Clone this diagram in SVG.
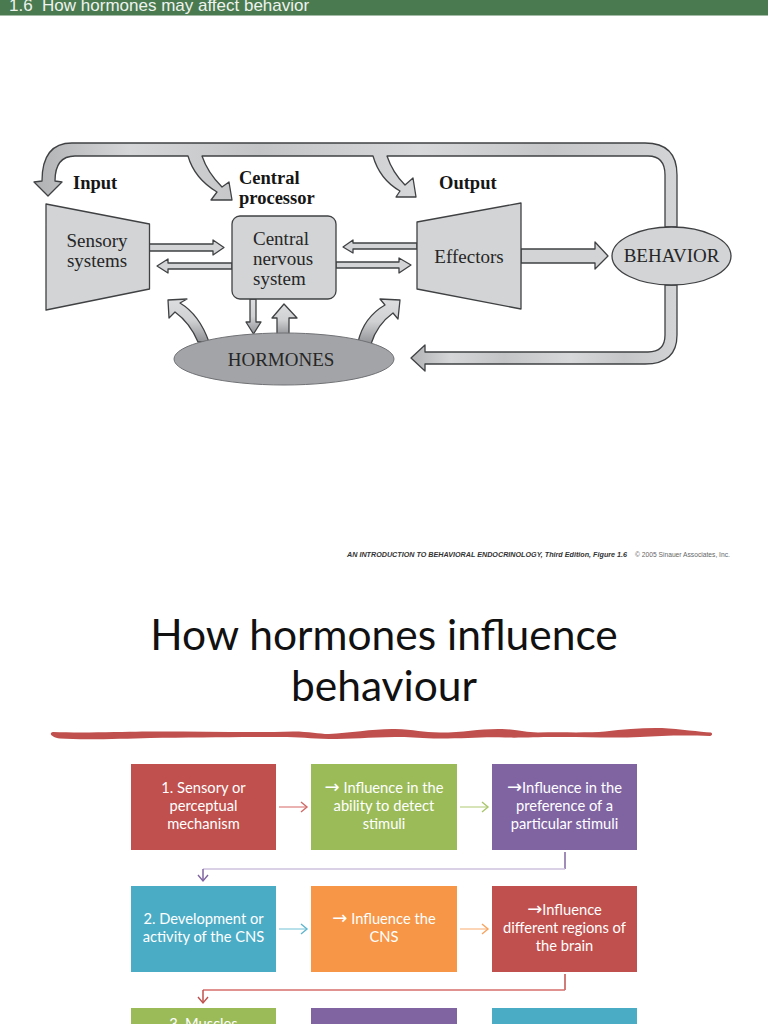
<svg xmlns="http://www.w3.org/2000/svg" width="768" height="1024" viewBox="0 0 768 1024">
<style>
.sh{stroke:#3f4143;stroke-width:1.3;stroke-linejoin:round}
.f{fill:#d2d4d6}
.s{font-family:"Liberation Serif",serif;font-size:19px;fill:#262626;text-anchor:middle}
.l{text-anchor:start}
.b{font-family:"Liberation Serif",serif;font-size:18.500px;font-weight:bold;fill:#161616}
.t{font-family:Lato,"Open Sans",sans-serif;font-size:14.700px;fill:#fff;text-anchor:middle}
.a{font-family:"DejaVu Sans",sans-serif;font-size:18px}
.h{font-family:Lato,"Open Sans",sans-serif;font-size:42.500px;fill:#111;text-anchor:middle}
.c{fill:none;stroke-width:1.500}
</style>
<defs>
<linearGradient id="band" x1="0" x2="1" y1="0" y2="0">
<stop offset="0" stop-color="#b0b2b4"/><stop offset=".15" stop-color="#d4d6d8"/><stop offset=".35" stop-color="#c2c4c6"/><stop offset=".6" stop-color="#d6d8da"/><stop offset=".8" stop-color="#c4c6c8"/><stop offset="1" stop-color="#d2d4d6"/>
</linearGradient>
<linearGradient id="up" x1="0" x2="0" y1="0" y2="1">
<stop offset="0" stop-color="#dcdedf"/><stop offset=".5" stop-color="#cfd1d3"/><stop offset="1" stop-color="#8f9194"/>
</linearGradient>
<marker id="mr" markerUnits="userSpaceOnUse" markerWidth="10" markerHeight="12" refX="8" refY="6" orient="auto"><path d="M2 1L8 6L2 11" fill="none" stroke="#cf6a66" stroke-width="1.400"/></marker>
<marker id="mg" markerUnits="userSpaceOnUse" markerWidth="10" markerHeight="12" refX="8" refY="6" orient="auto"><path d="M2 1L8 6L2 11" fill="none" stroke="#a9c66d" stroke-width="1.400"/></marker>
<marker id="mp" markerUnits="userSpaceOnUse" markerWidth="10" markerHeight="12" refX="8" refY="6" orient="auto"><path d="M2 1L8 6L2 11" fill="none" stroke="#8064a2" stroke-width="1.400"/></marker>
<marker id="mb" markerUnits="userSpaceOnUse" markerWidth="10" markerHeight="12" refX="8" refY="6" orient="auto"><path d="M2 1L8 6L2 11" fill="none" stroke="#5fb6cd" stroke-width="1.400"/></marker>
<marker id="mo" markerUnits="userSpaceOnUse" markerWidth="10" markerHeight="12" refX="8" refY="6" orient="auto"><path d="M2 1L8 6L2 11" fill="none" stroke="#f9a35f" stroke-width="1.400"/></marker>
<marker id="md" markerUnits="userSpaceOnUse" markerWidth="10" markerHeight="12" refX="8" refY="6" orient="auto"><path d="M2 1L8 6L2 11" fill="none" stroke="#c0504d" stroke-width="1.400"/></marker>
</defs>
<rect width="768" height="1024" fill="#fff"/>
<g id="header">
<rect width="768" height="15.500" fill="#4a7a50"/>
<text x="9" y="11" font-family="'Liberation Sans',sans-serif" font-size="17" fill="#eef3ee" xml:space="preserve">1.6  How hormones may affect behavior</text>
</g>
<g id="figure-connectors">
<path class="sh" fill="url(#band)" d="M677 227V175Q677 143 645 143H72Q42 143 42 181L34 182L48 196L62 182L55 181Q55 156 75 156H188C192 170 202 183 217 192L211 200H232L229 182L222 187C214 179 206 168 202 156H373C377 170 386 183 400 191L396 197H416L413 178L405 185C397 177 391 168 387 156H648Q665 156 665 175V227Z"/>
<path class="sh" fill="url(#band)" d="M665 285V335Q665 352 648 352H425V345L411 358L425 371V364H645Q677 364 677 335V285Z"/>
<path class="sh f" d="M149 244H213V240L224 247.500L213 255V251H149Z"/>
<path class="sh f" d="M232 263H168V259L157 266L168 273V269H232Z"/>
<path class="sh f" d="M417 243H353V240L343 247L353 253V249H417Z"/>
<path class="sh f" d="M336 262H399V258L411 265L399 273V268H336Z"/>
<path class="sh f" d="M521 249H595V242L608 256L595 269V263H521Z"/>
<path class="sh" fill="url(#up)" d="M250 299H256V322H261L253.500 334L246 322H250Z"/>
<path class="sh" fill="url(#up)" d="M277 336V318H272L284 304L297 318H289V336Z"/>
<path class="sh" fill="url(#up)" d="M209 342C203 325 195 312 180 303L187 299L168 300L169 318L175 312C186 320 193 330 198 342Z"/>
<path class="sh" fill="url(#up)" d="M358 342C362 325 371 313 385 305L380 299L400 300L398 319L393 313C382 321 375 331 371 344Z"/>
</g>
<g id="sensory-systems">
<path class="sh f" d="M46 204L149.500 224V289L46 310Z"/>
<text class="s"><tspan x="97" y="247">Sensory</tspan><tspan x="97" y="267">systems</tspan></text>
</g>
<g id="central-nervous-system">
<rect class="sh f" x="232" y="216" width="104" height="83" rx="8"/>
<text class="s l"><tspan x="253" y="245">Central</tspan><tspan x="253" y="265">nervous</tspan><tspan x="253" y="285">system</tspan></text>
</g>
<g id="effectors">
<path class="sh f" d="M417 222L521 203V309L417 289Z"/>
<text class="s" x="469" y="263">Effectors</text>
</g>
<g id="behavior">
<ellipse class="sh f" cx="671.500" cy="256" rx="59.500" ry="29"/>
<text class="s" x="671.500" y="262">BEHAVIOR</text>
</g>
<g id="hormones">
<ellipse cx="284" cy="359" rx="110" ry="26" fill="#a2a4a7" stroke="#6f7174"/>
<text class="s" x="281" y="366">HORMONES</text>
</g>
<g id="figure-labels">
<text class="b" x="73" y="189">Input</text>
<text class="b"><tspan x="239" y="184">Central</tspan><tspan x="239" y="204">processor</tspan></text>
<text class="b" x="439" y="189">Output</text>
</g>
<g id="credit">
<text x="347" y="556.500" font-family="'Liberation Sans',sans-serif" font-size="7.200" fill="#333" font-weight="bold" font-style="italic">AN INTRODUCTION TO BEHAVIORAL ENDOCRINOLOGY, Third Edition, Figure 1.6</text>
<text x="635" y="556.500" font-family="'Liberation Sans',sans-serif" font-size="6.700" fill="#666">© 2005 Sinauer Associates, Inc.</text>
</g>
<g id="title">
<text class="h"><tspan x="384" y="650">How hormones influence</tspan><tspan x="384" y="701">behaviour</tspan></text>
<path id="title-rule" fill="#c0504d" d="M53 732C80 733 120 732 142 731.500C190 731 250 733 293 731.500C310 731.500 318 734 329 734C350 733 375 728.500 395 729C415 729.500 422 732.500 440 732.500C465 732.500 480 728.500 502 729C520 729.500 525 732.500 538 732.500C565 732 590 733 605 731.500C625 729 645 727.500 662 728C680 729 700 732 711 732.500C713 733.500 712 736 710 736C680 735 660 736 640 737C610 738.500 580 736.500 555 737C535 737 520 738 505 737.500C485 736.500 465 738.500 440 738.500C420 738.500 410 736.500 395 737C370 737.500 350 739 329 739C310 738.500 300 737 280 737C240 737 190 737.500 150 738C120 739 80 740 60 738.500C52 737.500 48 733 53 732Z"/>
</g>
<g id="flow-connectors">
<path class="c" stroke="#e39a98" d="M279 807H307" marker-end="url(#mr)"/>
<path class="c" stroke="#c8dba0" d="M460 807H488" marker-end="url(#mg)"/>
<path class="c" stroke="#8064a2" d="M565 852V869"/>
<path class="c" stroke="#cfc2df" d="M565 869H203"/>
<path class="c" stroke="#8064a2" d="M203 869V881" marker-end="url(#mp)"/>
<path class="c" stroke="#a0d6e4" d="M279 929H307" marker-end="url(#mb)"/>
<path class="c" stroke="#fbc79f" d="M460 929H488" marker-end="url(#mo)"/>
<path class="c" stroke="#c0504d" d="M565 974V990"/>
<path class="c" stroke="#d66e6b" d="M565 990H203"/>
<path class="c" stroke="#c0504d" d="M203 990V1003" marker-end="url(#md)"/>
</g>
<g id="box-1"><rect x="131" y="764" width="145" height="86" fill="#c0504d"/>
<text class="t"><tspan x="203.500" y="793">1. Sensory or</tspan><tspan x="203.500" y="811">perceptual</tspan><tspan x="203.500" y="829">mechanism</tspan></text></g>
<g id="box-2"><rect x="311" y="764" width="146" height="86" fill="#9bbb59"/>
<text class="t"><tspan x="384" y="793"><tspan class="a">→</tspan> Influence in the</tspan><tspan x="384" y="811">ability to detect</tspan><tspan x="384" y="829">stimuli</tspan></text></g>
<g id="box-3"><rect x="492" y="764" width="145" height="86" fill="#8064a2"/>
<text class="t"><tspan x="564.500" y="793"><tspan class="a">→</tspan>Influence in the</tspan><tspan x="564.500" y="811">preference of a</tspan><tspan x="564.500" y="829">particular stimuli</tspan></text></g>
<g id="box-4"><rect x="131" y="886" width="145" height="86" fill="#4bacc6"/>
<text class="t"><tspan x="203.500" y="924">2. Development or</tspan><tspan x="203.500" y="942">activity of the CNS</tspan></text></g>
<g id="box-5"><rect x="311" y="886" width="146" height="86" fill="#f79646"/>
<text class="t"><tspan x="384" y="924"><tspan class="a">→</tspan> Influence the</tspan><tspan x="384" y="942">CNS</tspan></text></g>
<g id="box-6"><rect x="492" y="886" width="145" height="86" fill="#c0504d"/>
<text class="t"><tspan x="564.500" y="915"><tspan class="a">→</tspan>Influence</tspan><tspan x="564.500" y="933">different regions of</tspan><tspan x="564.500" y="951">the brain</tspan></text></g>
<g id="box-7"><rect x="131" y="1008" width="145" height="20" fill="#9bbb59"/>
<text class="t" x="203.500" y="1029">3. Muscles</text></g>
<g id="box-8"><rect x="311" y="1008" width="146" height="20" fill="#8064a2"/></g>
<g id="box-9"><rect x="492" y="1008" width="145" height="20" fill="#4bacc6"/></g>
</svg>
